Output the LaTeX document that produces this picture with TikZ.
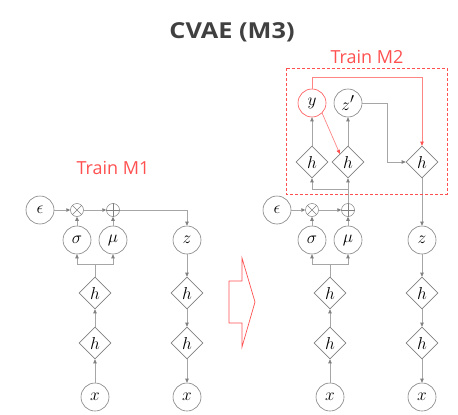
\documentclass[tikz,border=0pt]{standalone}
\usepackage{fontspec}
\setmainfont{Open Sans}
\usetikzlibrary{arrows.meta,shapes.geometric,calc}
\definecolor{ln}{HTML}{A6A6A6}
\definecolor{nd}{HTML}{808080}
\definecolor{rd}{HTML}{FF5050}
\definecolor{tt}{HTML}{404040}
\tikzset{
  var/.style={circle,draw=nd,line width=0.6pt,minimum size=28pt,inner sep=0pt,font=\fontsize{19}{22}\selectfont},
  opr/.style={circle,draw=nd,line width=0.5pt,minimum size=13pt,inner sep=0pt},
  hid/.style={diamond,draw=nd,line width=0.6pt,minimum size=32pt,inner sep=0pt,font=\fontsize{19}{22}\selectfont},
  conn/.style={draw=ln,line width=0.7pt,-{Triangle[length=4pt,width=3.5pt,color=nd]}},
  plain/.style={draw=ln,line width=0.7pt},
  rconn/.style={draw=rd!70,line width=0.7pt,-{Triangle[length=4pt,width=3.5pt,color=rd]}},
  lbl/.style={text=rd,font=\fontsize{18}{21}\selectfont},
}
\begin{document}
\begin{tikzpicture}[x=1pt,y=-1pt]
\useasboundingbox (0,0) rectangle (458,415);
\node[text=tt,font=\bfseries\fontsize{22}{26}\selectfont] (title) at (232,32) {\scalebox{1.15}[1]{CVAE (M3)}};
\node[lbl] (m1) at (113,168) {Train M1};
\node[lbl] (m2) at (367,57) {Train M2};
% ---------- left ----------
\node[var] (eps1) at (40,210) {$\epsilon$};
\node[opr] (tim1) at (77,210) {};
\draw[nd,line width=0.4pt] (tim1.north west) -- (tim1.south east) (tim1.north east) -- (tim1.south west);
\node[opr] (plu1) at (113,210) {};
\draw[nd,line width=0.4pt] (plu1.north) -- (plu1.south) (plu1.west) -- (plu1.east);
\node[var] (sig1) at (77,240) {$\sigma$};
\node[var] (mu1) at (113,240) {$\mu$};
\node[var] (z1) at (187,240) {$z$};
\node[hid] (ha1) at (95,293) {$h$};
\node[hid] (hb1) at (95,343) {$h$};
\node[var] (x1) at (95,397) {$x$};
\node[hid] (hc1) at (187,293) {$h$};
\node[hid] (hd1) at (187,343) {$h$};
\node[var] (x2) at (187,397) {$x$};
\coordinate (br1) at (95,264);
\draw[conn] (eps1) -- (tim1);
\draw[conn] (tim1) -- (plu1);
\draw[conn] (sig1) -- (tim1);
\draw[conn] (mu1) -- (plu1);
\draw[conn] (plu1.east) -| (z1.north);
\draw[plain] (ha1.north) -- (br1);
\draw[conn] (br1) -| (sig1.south);
\draw[conn] (br1) -| (mu1.south);
\draw[conn] (x1) -- (hb1);
\draw[conn] (hb1) -- (ha1);
\draw[conn] (z1) -- (hc1);
\draw[conn] (hc1) -- (hd1);
\draw[conn] (hd1) -- (x2);
% ---------- arrow ----------
\draw[rd,line width=0.7pt,line join=miter] (229,281) -- (242,281) -- (242,258) -- (255,302) -- (242,347) -- (242,323) -- (229,323) -- cycle;
% ---------- right ----------
\node[var] (eps2) at (277,210) {$\epsilon$};
\node[opr] (tim2) at (312,210) {};
\draw[nd,line width=0.4pt] (tim2.north west) -- (tim2.south east) (tim2.north east) -- (tim2.south west);
\node[opr] (plu2) at (348,210) {};
\draw[nd,line width=0.4pt] (plu2.north) -- (plu2.south) (plu2.west) -- (plu2.east);
\node[var] (sig2) at (312,240) {$\sigma$};
\node[var] (mu2) at (348,240) {$\mu$};
\node[var] (z2) at (422,240) {$z$};
\node[hid] (ha2) at (330,293) {$h$};
\node[hid] (hb2) at (330,343) {$h$};
\node[var] (x3) at (330,397) {$x$};
\node[hid] (hc2) at (422,293) {$h$};
\node[hid] (hd2) at (422,343) {$h$};
\node[var] (x4) at (422,397) {$x$};
\node[var,draw=rd] (yv) at (312,103) {$y$};
\node[var] (zp) at (348,103) {$z'$};
\node[hid] (hl) at (312,162) {$h$};
\node[hid] (hm) at (348,162) {$h$};
\node[hid] (hr) at (422,162) {$h$};
\coordinate (br2) at (330,264);
\coordinate (br3) at (348,189);
\coordinate (ytop) at (312,77);
\coordinate (zpr) at (387,103);
\draw[conn] (eps2) -- (tim2);
\draw[conn] (tim2) -- (plu2);
\draw[conn] (sig2) -- (tim2);
\draw[conn] (mu2) -- (plu2);
\draw[plain] (ha2.north) -- (br2);
\draw[conn] (br2) -| (sig2.south);
\draw[conn] (br2) -| (mu2.south);
\draw[conn] (x3) -- (hb2);
\draw[conn] (hb2) -- (ha2);
\draw[conn] (plu2) -- (hm);
\draw[conn] (br3) -| (hl.south);
\draw[conn] (hl) -- (yv);
\draw[conn] (hm) -- (zp);
\draw[conn] (zp.east) -- (zpr) |- (hr.west);
\draw[rconn] (yv.north) -- (ytop) -| (hr.north);
\draw[rconn] (yv.south east) -- (hm.north west);
\draw[conn] (hr) -- (z2);
\draw[conn] (z2) -- (hc2);
\draw[conn] (hc2) -- (hd2);
\draw[conn] (hd2) -- (x4);
\draw[rd,line width=0.7pt,dash pattern=on 3pt off 2pt] (286,68) rectangle (447,194);
\end{tikzpicture}
\end{document}
